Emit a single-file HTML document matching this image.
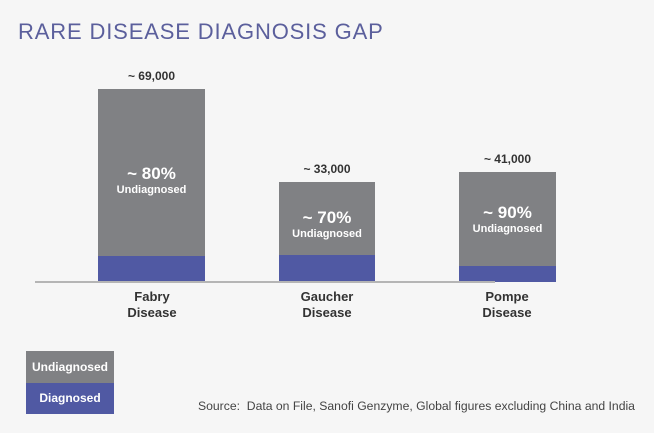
<!DOCTYPE html>
<html><head><style>
body{margin:0;width:654px;height:433px;background:#f6f6f6;position:relative;overflow:hidden;font-family:"Liberation Sans",sans-serif;}
.a{position:absolute;}
.g{background:#808184;}
.b{background:#5059a3;}
.t{color:#333;font-weight:bold;font-size:12px;text-align:center;}
.w{color:#fff;font-weight:bold;text-align:center;}
</style></head><body>
<div class="a" style="left:18px;top:19px;font-size:22px;letter-spacing:0.85px;color:#5b5f9c;font-weight:300;">RARE DISEASE DIAGNOSIS GAP</div>

<div class="a t" style="left:98px;width:107px;top:69px">~ 69,000</div>
<div class="a g" style="left:98px;top:89px;width:107px;height:167px"></div>
<div class="a b" style="left:98px;top:256px;width:107px;height:26px"></div>
<div class="a w" style="left:98px;width:107px;top:164px;font-size:17px">~ 80%</div>
<div class="a w" style="left:98px;width:107px;top:184px;font-size:11px">Undiagnosed</div>

<div class="a t" style="left:279px;width:96px;top:162px">~ 33,000</div>
<div class="a g" style="left:279px;top:182px;width:96px;height:73px"></div>
<div class="a b" style="left:279px;top:255px;width:96px;height:27px"></div>
<div class="a w" style="left:279px;width:96px;top:208px;font-size:17px">~ 70%</div>
<div class="a w" style="left:279px;width:96px;top:228px;font-size:11px">Undiagnosed</div>

<div class="a t" style="left:459px;width:97px;top:152px">~ 41,000</div>
<div class="a g" style="left:459px;top:172px;width:97px;height:94px"></div>
<div class="a b" style="left:459px;top:266px;width:97px;height:16px"></div>
<div class="a w" style="left:459px;width:97px;top:203px;font-size:17px">~ 90%</div>
<div class="a w" style="left:459px;width:97px;top:223px;font-size:11px">Undiagnosed</div>

<div class="a" style="left:35px;top:281px;width:460px;height:2px;background:#b5b5b5"></div>

<div class="a t" style="left:92px;width:120px;top:289px;font-size:13px;line-height:16px">Fabry<br>Disease</div>
<div class="a t" style="left:267px;width:120px;top:289px;font-size:13px;line-height:16px">Gaucher<br>Disease</div>
<div class="a t" style="left:447px;width:120px;top:289px;font-size:13px;line-height:16px">Pompe<br>Disease</div>

<div class="a g w" style="left:26px;top:351px;width:88px;height:32px;line-height:32px;font-size:12px">Undiagnosed</div>
<div class="a b w" style="left:26px;top:383px;width:88px;height:31px;line-height:31px;font-size:12px">Diagnosed</div>

<div class="a" style="left:198px;top:399px;font-size:12.2px;color:#444">Source:&nbsp; Data on File, Sanofi Genzyme, Global figures excluding China and India</div>
</body></html>
